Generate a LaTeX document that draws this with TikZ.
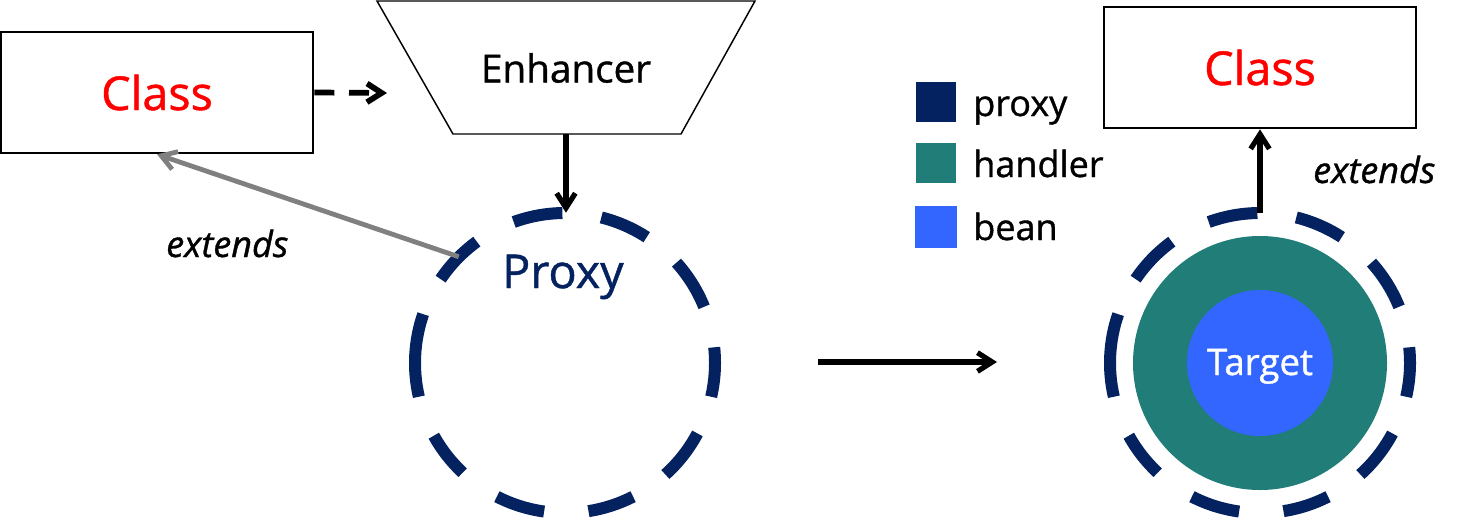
\documentclass[tikz,border=0pt]{standalone}
\usepackage{fontspec}
\setmainfont{Open Sans}[FakeBold=1.0]
\usetikzlibrary{arrows.meta}
\definecolor{proxyblue}{RGB}{4,34,96}
\definecolor{handlerteal}{RGB}{32,125,119}
\definecolor{beanblue}{RGB}{51,102,255}
\definecolor{classred}{RGB}{255,0,0}
\definecolor{extgray}{RGB}{128,128,128}
\begin{document}
\begin{tikzpicture}[x=0.75pt,y=-0.75pt,
  classbox/.style={draw=black,line width=2pt,minimum width=234pt,minimum height=90.75pt,inner sep=0pt,text=classred,font=\fontsize{35}{40}\selectfont},
  enhline/.style={draw=black,line width=1.1pt},
  enhtext/.style={inner sep=0pt,font=\fontsize{29}{34}\selectfont},
  ringnode/.style={circle,minimum size=225pt,inner sep=0pt},
  ringdash/.style={draw=proxyblue,line width=9pt},
  headtip/.style={-{Straight Barb[length=11pt,width=14pt]}},
  arr/.style={draw=black,line width=3.9pt,headtip},
  grayarr/.style={draw=extgray,line width=3.6pt,headtip},
  dasharr/.style={draw=black,line width=4.3pt,dash pattern=on 15pt off 11pt,headtip},
  exttext/.style={font=\fontsize{27}{32}\selectfont\itshape,inner sep=0pt},
  legsq/.style={minimum size=30pt,inner sep=0pt},
  legtext/.style={font=\fontsize{27}{32}\selectfont,inner sep=0pt,anchor=base west},
]
\useasboundingbox (0,0) rectangle (1463,521);
% left part
\node[classbox] (classL) at (157,92.5) {Class};
\coordinate (enhTL) at (377,1);
\coordinate (enhTR) at (755,1);
\coordinate (enhBR) at (681,134);
\coordinate (enhBL) at (453,134);
\coordinate (enhbot) at (566,134);
\draw[enhline] (enhTL) -- (enhTR) -- (enhBR) -- (enhBL) -- cycle;
\node[enhtext] (enh) at (566,68) {Enhancer};
\coordinate (dashend) at (387,93);
\draw[dasharr] (classL.east) -- (dashend);
\node[ringnode] (proxyC) at (565,363) {};
\foreach \a/\b in {-13/6,22/42,57/76,91/110,126/146,161/193,209/227,243/262,279/297,312/332}
  \draw[ringdash] ([shift={(\a:112.5pt)}]proxyC.center) arc[start angle=\a,end angle=\b,radius=112.5pt];
\node[text=proxyblue,font=\fontsize{35}{40}\selectfont,inner sep=0pt,anchor=base] (proxylabel) at (563,288) {Proxy};
\draw[arr] (enhbot) -- (enhbot |- proxyC.north);
\draw[grayarr] (proxyC.135) -- (classL.south);
\node[exttext,anchor=base west] (extL) at (166,257) {extends};
% middle arrow
\coordinate (mainA) at (818,362);
\coordinate (mainB) at (997,362);
\draw[arr] (mainA) -- (mainB);
% legend
\node[legsq,fill=proxyblue] (sqproxy) at (936,102) {};
\node[legsq,fill=handlerteal] (sqhandler) at (936,163) {};
\node[legsq,fill=beanblue,minimum size=31.5pt] (sqbean) at (936,227) {};
\node[legtext] (lproxy) at (973,116) {proxy};
\node[legtext] (lhandler) at (973,177) {handler};
\node[legtext] (lbean) at (973,240) {bean};
% right part
\node[classbox] (classR) at (1260,67.5) {Class};
\node[circle,fill=handlerteal,minimum size=190.5pt,inner sep=0pt] (handler) at (1260,363) {};
\node[circle,fill=beanblue,minimum size=109.5pt,inner sep=0pt] (target) at (1260,363) {};
\node[text=white,font=\fontsize{27.5}{32}\selectfont,inner sep=0pt,anchor=base] (targetlabel) at (1260,375) {Target};
\node[ringnode] (proxyR) at (1260,363) {};
\foreach \a/\b in {-13/6,22/42,57/76,91/110,126/146,161/193,209/227,243/262,279/297,312/332}
  \draw[ringdash] ([shift={(\a:112.5pt)}]proxyR.center) arc[start angle=\a,end angle=\b,radius=112.5pt];
\draw[arr] (proxyR.north) -- (classR.south);
\node[exttext,anchor=base west] (extR) at (1313,183) {extends};
\end{tikzpicture}
\end{document}
